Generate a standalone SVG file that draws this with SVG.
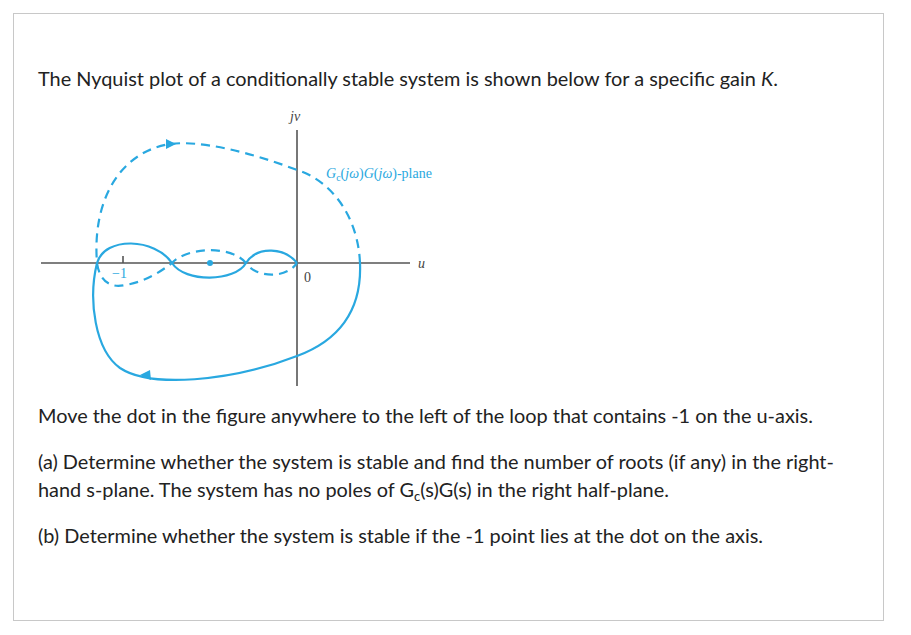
<svg xmlns="http://www.w3.org/2000/svg" width="911" height="635" viewBox="0 0 911 635">
<style>
.t{font-family:Lato,"Open Sans",sans-serif;font-size:19.9px;fill:#222}
.c{fill:none;stroke:#29a8e0;stroke-width:2.2}
.d{stroke-dasharray:9,6}
.ax{stroke:#555;stroke-width:1.6}
.s{font-family:"Liberation Serif",serif;font-size:14px}
</style>
<rect x="0" y="0" width="911" height="635" fill="#fff"/>
<rect x="13.5" y="13.5" width="870" height="607" fill="none" stroke="#c8c8c8"/>
<text class="t" x="38" y="86">The Nyquist plot of a conditionally stable system is shown below for a specific gain <tspan font-style="italic">K</tspan>.</text>
<g id="axes">
<line class="ax" x1="41" y1="263" x2="410" y2="263"/>
<line class="ax" x1="297" y1="130" x2="297" y2="386"/>
<line class="ax" x1="123" y1="256" x2="123" y2="263"/>
<text class="s" x="290" y="121" font-style="italic" fill="#444" font-size="16">jv</text>
<text class="s" x="418" y="268" font-style="italic" fill="#444" font-size="16">u</text>
<text class="s" x="304" y="282" fill="#444" font-size="16">0</text>
<text class="s" x="112" y="278" fill="#29a8e0" font-size="15">−1</text>
</g>
<g id="connectors">
<path class="c" d="M297,263 C285,248 258,245 246,263 C235,282 185,283 172,263 C155,238 105,236 97,263 C88,300 95,350 120,368 C150,388 230,382 297,356 C340,340 362,310 360,263"/>
<path class="c d" d="M360,263 C358,215 330,180 297,170 C250,152 200,140 170,144 C120,152 92,200 97,263 C100,283 112,288 125,285 C145,282 160,272 172,263 C185,248 230,244 246,263 C255,277 285,280 297,263"/>
<polygon points="176,144 166,139 166,149" fill="#29a8e0"/>
<polygon points="140,375 150,370 151,380" fill="#29a8e0"/>
<circle cx="210" cy="263" r="3" fill="#29a8e0"/>
</g>
<g id="label"><text class="s" x="326" y="178" fill="#29a8e0" font-size="16"><tspan font-style="italic">G</tspan><tspan font-size="10" dy="3">c</tspan><tspan dy="-3">(</tspan><tspan font-style="italic">jω</tspan>)<tspan font-style="italic">G</tspan>(<tspan font-style="italic">jω</tspan>)-plane</text></g>
<text class="t" x="38" y="423">Move the dot in the figure anywhere to the left of the loop that contains -1 on the u-axis.</text>
<text class="t" x="38" y="469">(a) Determine whether the system is stable and find the number of roots (if any) in the right-</text>
<text class="t" x="38" y="497">hand s-plane. The system has no poles of G<tspan font-size="13" dy="4">c</tspan><tspan dy="-4">(s)G(s) in the right half-plane.</tspan></text>
<text class="t" x="38" y="543">(b) Determine whether the system is stable if the -1 point lies at the dot on the axis.</text>
</svg>
